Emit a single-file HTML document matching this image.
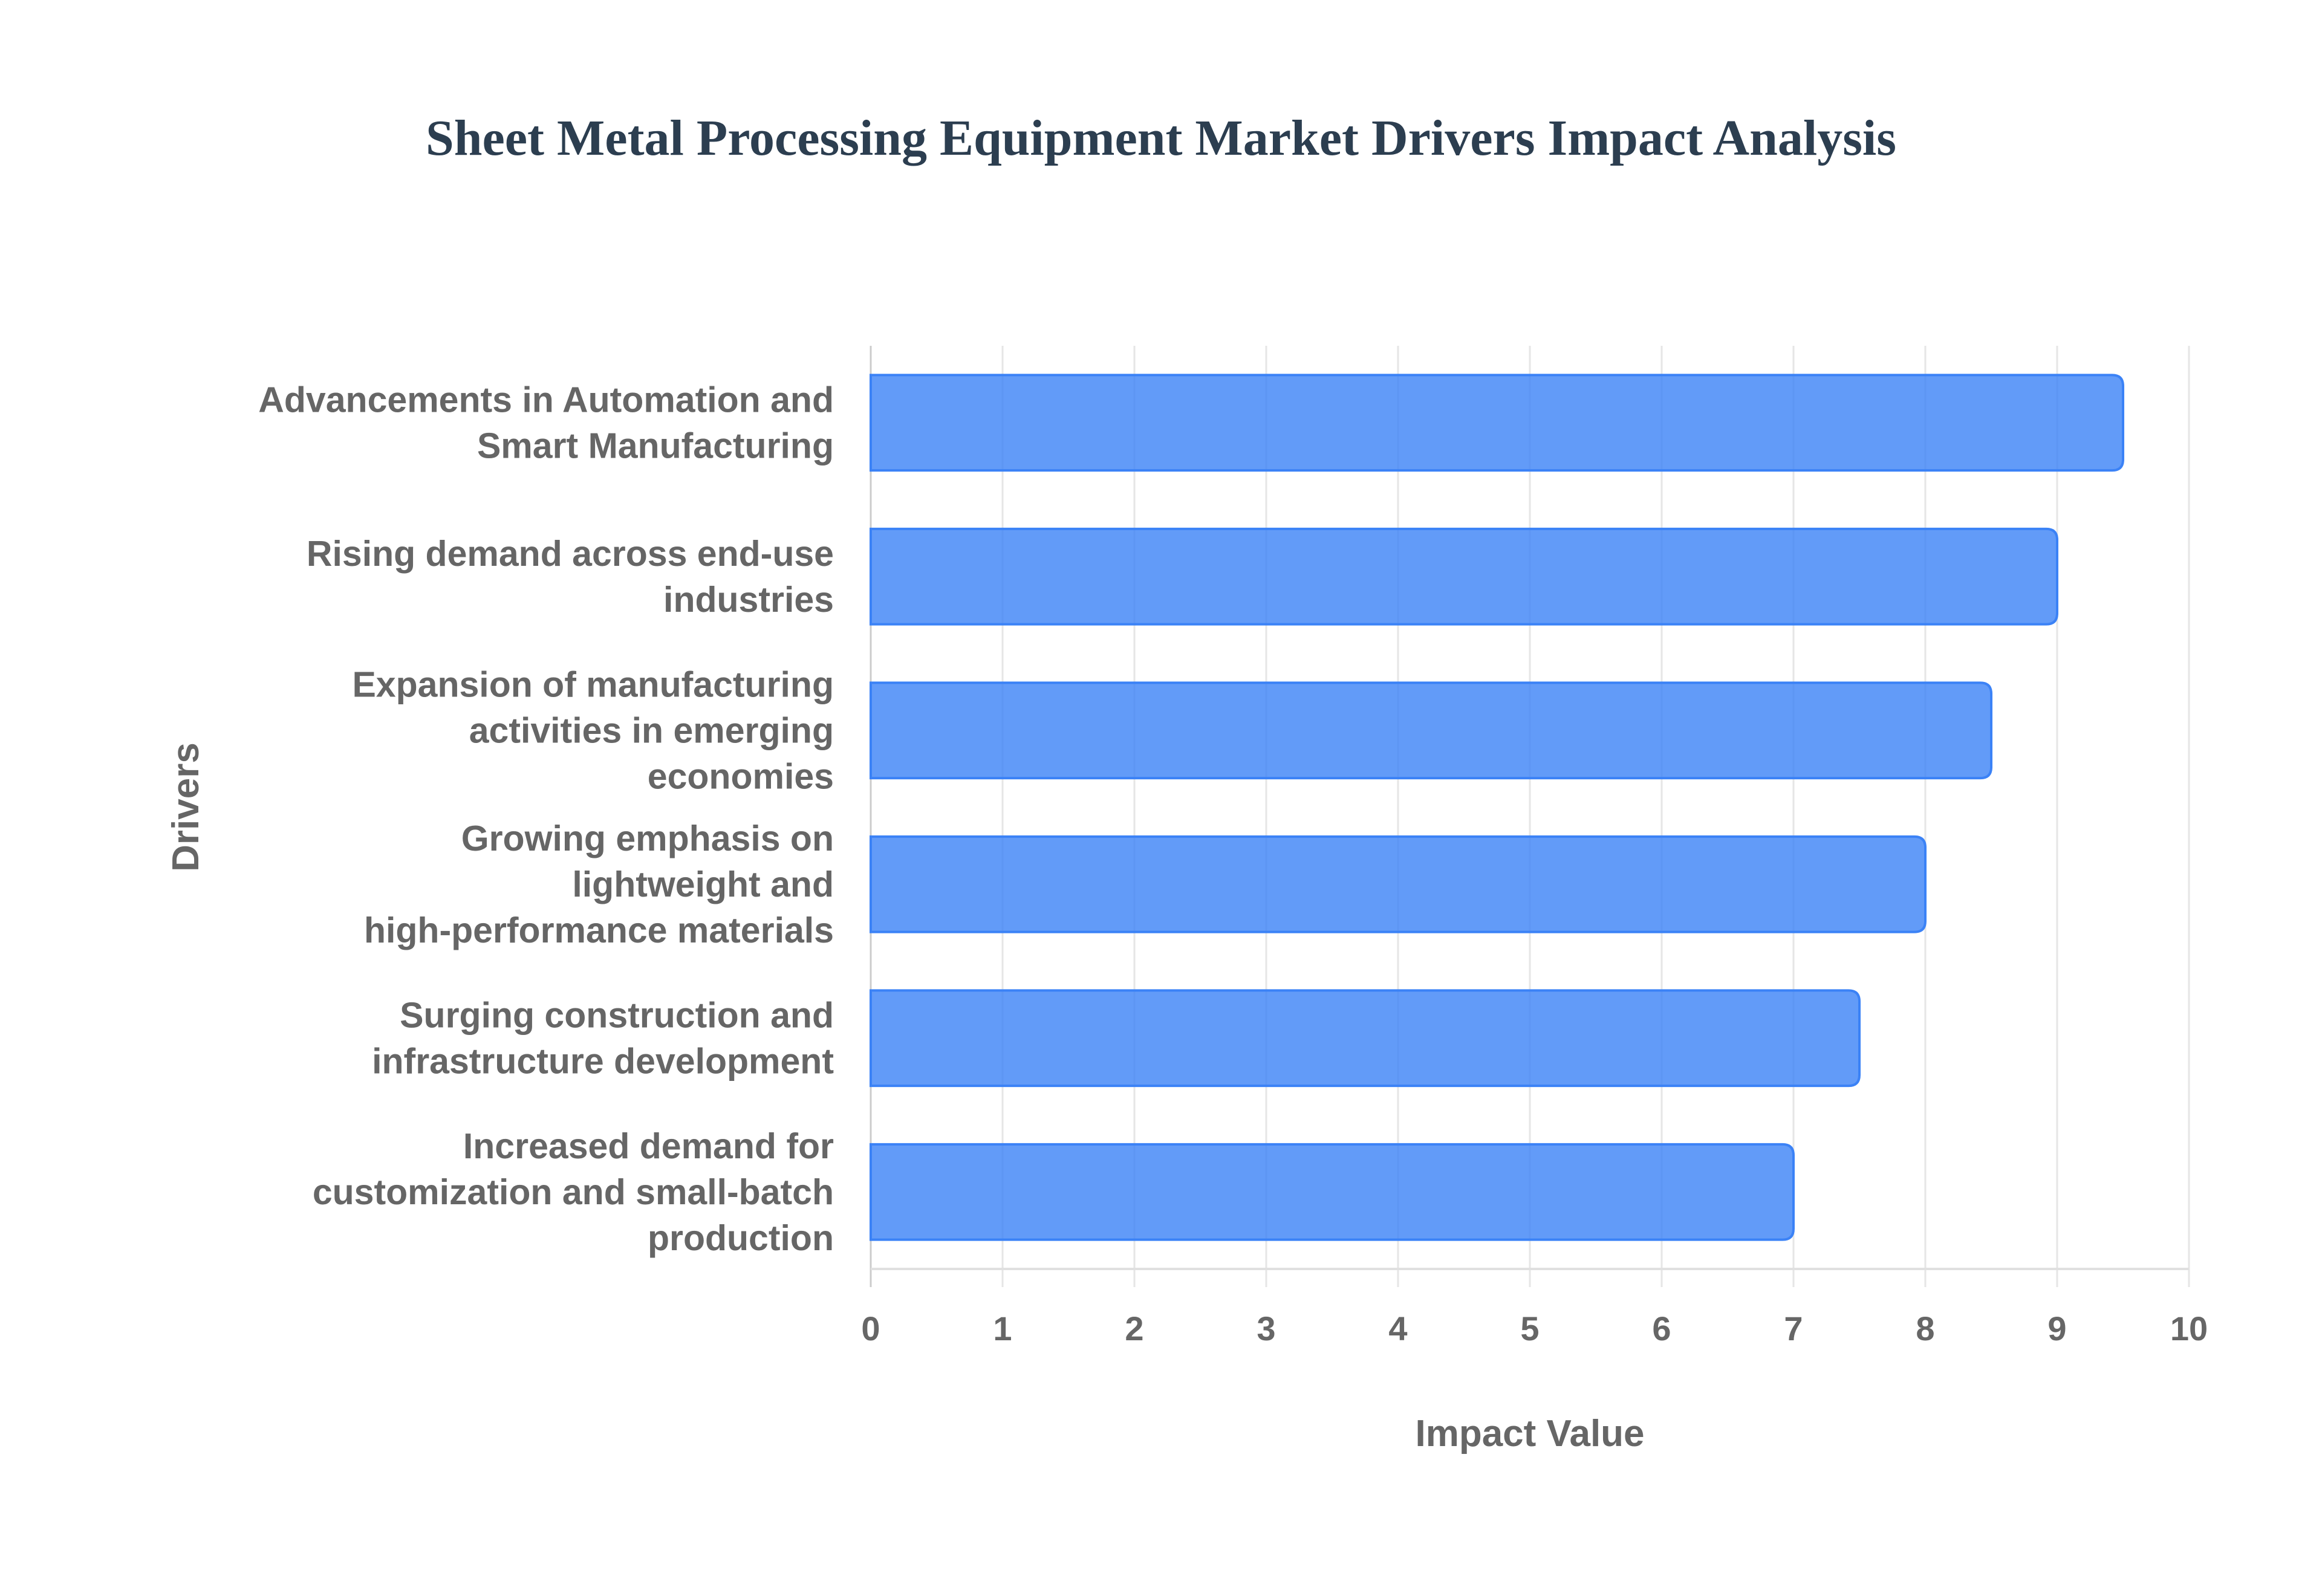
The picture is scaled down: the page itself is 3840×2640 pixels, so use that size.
<!DOCTYPE html>
<html><head><meta charset="utf-8"><style>
html,body{margin:0;padding:0;background:#fff;}
svg{display:block;}
</style></head><body>
<svg id="chart" width="3840" height="2640" viewBox="0 0 3840 2640" xmlns="http://www.w3.org/2000/svg">
<text x="1920" y="256" text-anchor="middle" font-family="Liberation Serif, serif" font-weight="bold" font-size="84" fill="#2c3e50">Sheet Metal Processing Equipment Market Drivers Impact Analysis</text>
<g id="grid"></g>
<g id="bars"></g>
<g id="ylabels"></g>
<g id="xticks"></g>
<text x="2530" y="2392" text-anchor="middle" font-family="Liberation Sans, sans-serif" font-weight="bold" font-size="62" fill="#666">Impact Value</text>
<text transform="translate(328,1335) rotate(-90)" text-anchor="middle" font-family="Liberation Sans, sans-serif" font-weight="bold" font-size="62" fill="#666">Drivers</text>
</svg>
<script>
const categories = [
  ["Advancements in Automation and","Smart Manufacturing"],
  ["Rising demand across end-use","industries"],
  ["Expansion of manufacturing","activities in emerging","economies"],
  ["Growing emphasis on","lightweight and","high-performance materials"],
  ["Surging construction and","infrastructure development"],
  ["Increased demand for","customization and small-batch","production"]
];
const values = [9.5, 9.0, 8.5, 8.0, 7.5, 7.0];
const tickLabels = ["0","1","2","3","4","5","6","7","8","9","10"];

const NS = "http://www.w3.org/2000/svg";
const X0 = 1440, X1 = 3620, YT = 572, YB = 2099, XMAX = 10;
const band = (YB - YT) / categories.length;
const barH = band * 0.62;
const xScale = v => X0 + (v / XMAX) * (X1 - X0);
const yBand = i => YT + i * band;

function mk(tag, attrs, parent) {
  const e = document.createElementNS(NS, tag);
  for (const k in attrs) e.setAttribute(k, attrs[k]);
  parent.appendChild(e);
  return e;
}
const grid = document.getElementById('grid');
const bars = document.getElementById('bars');
const ylab = document.getElementById('ylabels');
const xt = document.getElementById('xticks');

tickLabels.forEach((t, i) => {
  const v = +t;
  const x = xScale(v);
  const l = mk('line', {x1: x, x2: x, y1: YT, y2: YB + 30, stroke: i === 0 ? '#ccc' : '#e6e6e6', 'stroke-width': 3}, grid);
  
  
  const tx = mk('text', {x: x, y: 2217, 'text-anchor': 'middle', 'font-family': 'Liberation Sans, sans-serif', 'font-weight': 'bold', 'font-size': 56, fill: '#666'}, xt);
  tx.textContent = t;
  
  
});
const base = mk('line', {x1: X0, x2: X1, y1: YB, y2: YB, stroke: '#e0e0e0', 'stroke-width': 4}, grid);



values.forEach((v, i) => {
  const y = yBand(i) + (band - barH) / 2;
  const x = xScale(v);
  const r = 18;
  const d = `M${X0},${y} H${x - r} Q${x},${y} ${x},${y + r} V${y + barH - r} Q${x},${y + barH} ${x - r},${y + barH} H${X0} Z`;
  const p = mk('path', {d: d, fill: 'rgba(59,130,246,0.8)', stroke: '#3b82f6', 'stroke-width': 4}, bars);
  
  
  const lines = categories[i];
  const cy = yBand(i) + band / 2;
  const lh = 76;
  const t = mk('text', {'text-anchor': 'end', 'font-family': 'Liberation Sans, sans-serif', 'font-weight': 'bold', 'font-size': 59, fill: '#666'}, ylab);
  
  
  lines.forEach((s, j) => {
    const ts = mk('tspan', {x: 1379, y: cy + (j - (lines.length - 1) / 2) * lh + 20}, t);
    ts.textContent = s;
  });
});
</script>
</body></html>
